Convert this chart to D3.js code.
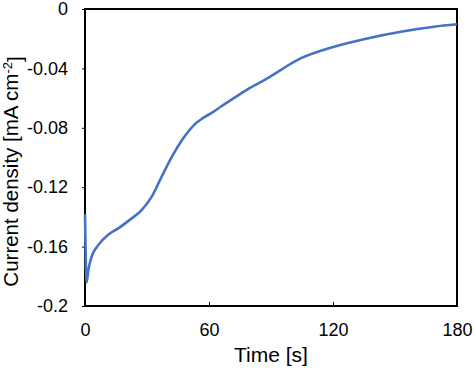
<!DOCTYPE html>
<html>
<head>
<meta charset="utf-8">
<script src="https://cdn.jsdelivr.net/npm/d3@7"></script>
<style>
  body { margin: 0; background: #fff; }
  text { font-family: "Liberation Sans", Arial, sans-serif; fill: #000; }
</style>
</head>
<body>
<div id="chart"></div>
<script>
const times = [0, 0.8, 1.6, 3.2, 6.4, 11.3, 16.1, 22.6, 27.4, 32.3, 37.1, 42, 46.8, 50, 53.2, 57, 61.3, 66, 72.6, 80, 88.2, 104.3, 120.5, 136.6, 152.8, 168.9, 180];
const current = [-0.138, -0.184, -0.176, -0.1668, -0.159, -0.152, -0.1477, -0.141, -0.1354, -0.1264, -0.1129, -0.0995, -0.0885, -0.0825, -0.0775, -0.0735, -0.0700, -0.0655, -0.0595, -0.053, -0.0467, -0.0333, -0.0254, -0.0198, -0.0153, -0.0119, -0.0103];
const xTicks = [0, 60, 120, 180];
const yTicks = [0, -0.04, -0.08, -0.12, -0.16, -0.2];

const W = 474, H = 368;
const margin = { top: 9, right: 17, bottom: 62, left: 85 },
  width = W - margin.left - margin.right,
  height = H - margin.top - margin.bottom;

const data = times.map((t, i) => ({ t: t, v: current[i] }));

const x = d3.scaleLinear().domain([0, 180]).range([0, width]);
const y = d3.scaleLinear().domain([-0.2, 0]).range([height, 0]);

const svg = d3.select("#chart").append("svg")
  .attr("width", W).attr("height", H)
  .append("g").attr("transform", `translate(${margin.left},${margin.top})`);

// x axis, ticks point inward
const xAxis = svg.append("g").attr("transform", `translate(0,${height})`)
  .call(d3.axisBottom(x).tickValues(xTicks).tickSizeInner(-4).tickSizeOuter(0).tickPadding(17).tickFormat(d3.format("d")));
xAxis.selectAll("text").style("font-size", "18px");

// y axis, small outward ticks
const yAxis = svg.append("g")
  .call(d3.axisLeft(y).tickValues(yTicks).tickSizeInner(3).tickSizeOuter(0).tickPadding(14)
    .tickFormat(d => d === 0 ? "0" : String(d)));
yAxis.selectAll("text").style("font-size", "18px");

svg.selectAll(".domain").remove();
svg.selectAll(".tick line").attr("stroke", "#000").attr("stroke-width", 1);

// frame
svg.append("rect").attr("x", 0).attr("y", 0).attr("width", width).attr("height", height)
  .attr("fill", "none").attr("stroke", "#000").attr("stroke-width", 2);

const line = d3.line().x(d => x(d.t)).y(d => y(d.v)).curve(d3.curveMonotoneX);
svg.append("path").datum(data).attr("d", line)
  .attr("fill", "none").attr("stroke", "#4472C4").attr("stroke-width", 2.6);

// axis titles
svg.append("text").attr("x", width / 2).attr("y", height + 56)
  .attr("text-anchor", "middle").style("font-size", "21px").text("Time [s]");

const yt = svg.append("text")
  .attr("transform", `translate(${11 - margin.left},${height / 2 + 14}) rotate(-90)`)
  .attr("text-anchor", "middle").attr("dy", "0.35em").style("font-size", "20.5px");
yt.append("tspan").text("Current density [mA cm");
yt.append("tspan").attr("dy", "-0.45em").style("font-size", "13px").text("-2");
yt.append("tspan").attr("dy", "0.45em").text("]");
</script>
</body>
</html>
